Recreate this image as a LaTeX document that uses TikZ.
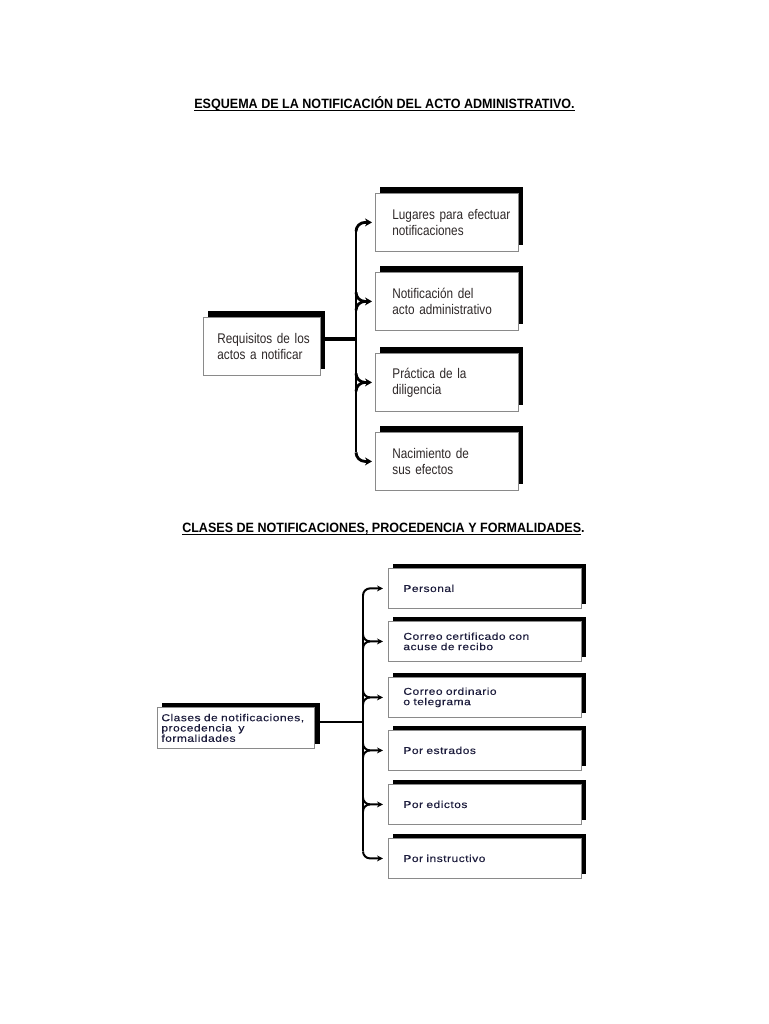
\documentclass[tikz,border=0pt]{standalone}
\usepackage{fontspec}
\setmainfont{Liberation Sans}
\newfontfamily\titlef[FakeStretch=0.93]{Liberation Sans}
\newfontfamily\narrowf[FakeStretch=0.84,WordSpace=0.7]{Liberation Sans}
\newfontfamily\widef[FakeStretch=1.2,LetterSpace=5,FakeBold=0.3]{Liberation Sans}
\usetikzlibrary{shadows,calc,arrows.meta}
\definecolor{txtA}{HTML}{2E2828}
\definecolor{txtB}{HTML}{1C1C3C}
\definecolor{bord}{HTML}{8A8A8A}
\newcommand\ulx[1]{\setbox0\hbox{#1}\rlap{\rule[-2.6pt]{\wd0}{1.1pt}}\box0}
\tikzset{
  boxbase/.style={draw=bord, line width=0.8pt, fill=white, anchor=north west, align=left},
  boxA/.style={boxbase, minimum width=143pt, minimum height=58pt, text width=109pt, inner xsep=17pt,
    font=\narrowf\fontsize{14}{16}\selectfont, text=txtA,
    drop shadow={shadow xshift=5pt, shadow yshift=6pt, fill=black, opacity=1}},
  boxAL/.style={boxA, minimum width=117pt, text width=89pt, inner xsep=14pt},
  boxB/.style={boxbase, minimum width=193pt, minimum height=40pt, text width=163pt, inner xsep=15pt,
    font=\widef\fontsize{10}{10.3}\selectfont, text=txtB,
    drop shadow={shadow xshift=5pt, shadow yshift=4pt, fill=black, opacity=1}},
  boxBL/.style={boxB, minimum width=157pt, minimum height=41pt, text width=149pt, inner xsep=4pt,
    drop shadow={shadow xshift=6pt, shadow yshift=4pt, fill=black, opacity=1}},
  braceA/.style={line width=2.8pt, black},
  arrA/.style={braceA, -{Stealth[length=7pt,width=8pt]}, shorten >=3pt},
  braceB/.style={line width=2pt, black},
  arrB/.style={braceB, -{Stealth[length=6pt,width=6pt]}, shorten >=5pt},
  titlestyle/.style={font=\titlef\bfseries\fontsize{13.5}{16}\selectfont, inner sep=0pt}
}
\begin{document}
\begin{tikzpicture}[x=1pt,y=1pt]
\useasboundingbox[fill=white] (0,0) rectangle (768,-1024);

% Titles
\node[titlestyle] (t1) at (384.5,-104) {\ulx{ESQUEMA DE LA NOTIFICACIÓN DEL ACTO ADMINISTRATIVO.}};
\node[titlestyle] (t2) at (383.5,-529) {\ulx{CLASES DE NOTIFICACIONES, PROCEDENCIA Y FORMALIDADES}.};

% Diagram 1
\node[boxAL] (L1) at (203,-317) {\mbox{Requisitos de los}\\\mbox{actos a notificar}};
\node[boxA] (a1) at (375,-193) {\mbox{Lugares para efectuar}\\\mbox{notificaciones}};
\node[boxA] (a2) at (375,-272) {\mbox{Notificación del}\\\mbox{acto administrativo}};
\node[boxA] (a3) at (375,-353) {\mbox{Práctica de la}\\\mbox{diligencia}};
\node[boxA] (a4) at (375,-432) {\mbox{Nacimiento de}\\\mbox{sus efectos}};

\coordinate (T1) at (356,0);
\coordinate (J1) at (356,-339);
\draw[line width=4pt] (J1 -| L1.east) -- (J1);
\draw[braceA] ($(a1.west -| T1)+(0,-9)$) -- ($(a4.west -| T1)+(0,9)$);
\draw[arrA] ($(a1.west -| T1)+(0,-9)$) to[out=90,in=180] ($(a1.west -| T1)+(9,0)$) -- (a1.west);
\foreach \b in {a2,a3}{
  \draw[braceA] ($(\b.west -| T1)+(0,-9)$) to[out=90,in=180] ($(\b.west -| T1)+(9,0)$);
  \draw[arrA] ($(\b.west -| T1)+(0,9)$) to[out=-90,in=180] ($(\b.west -| T1)+(9,0)$) -- (\b.west);
}
\draw[arrA] ($(a4.west -| T1)+(0,9)$) to[out=-90,in=180] ($(a4.west -| T1)+(9,0)$) -- (a4.west);

% Diagram 2
\node[boxBL] (L2) at (157,-707) {\mbox{Clases de notificaciones,}\\\mbox{procedencia\ \ y}\\\mbox{formalidades}};
\node[boxB] (b1) at (388,-568) {\mbox{Personal}};
\node[boxB] (b2) at (388,-621) {\mbox{Correo certificado con}\\\mbox{acuse de recibo}};
\node[boxB] (b3) at (388,-677) {\mbox{Correo ordinario}\\\mbox{o telegrama}};
\node[boxB] (b4) at (388,-730) {\mbox{Por estrados}};
\node[boxB] (b5) at (388,-784) {\mbox{Por edictos}};
\node[boxB] (b6) at (388,-838) {\mbox{Por instructivo}};

\coordinate (T2) at (363,0);
\coordinate (J2) at (363,-722);
\draw[line width=1.4pt] (J2 -| L2.east) -- (J2);
\draw[braceB] ($(b1.west -| T2)+(0,-7)$) -- ($(b6.west -| T2)+(0,7)$);
\draw[arrB] ($(b1.west -| T2)+(0,-7)$) to[out=90,in=180] ($(b1.west -| T2)+(7,0)$) -- (b1.west);
\foreach \b in {b2,b3,b4,b5}{
  \draw[braceB] ($(\b.west -| T2)+(0,-7)$) to[out=90,in=180] ($(\b.west -| T2)+(7,0)$);
  \draw[arrB] ($(\b.west -| T2)+(0,7)$) to[out=-90,in=180] ($(\b.west -| T2)+(7,0)$) -- (\b.west);
}
\draw[arrB] ($(b6.west -| T2)+(0,7)$) to[out=-90,in=180] ($(b6.west -| T2)+(7,0)$) -- (b6.west);
\end{tikzpicture}
\end{document}
